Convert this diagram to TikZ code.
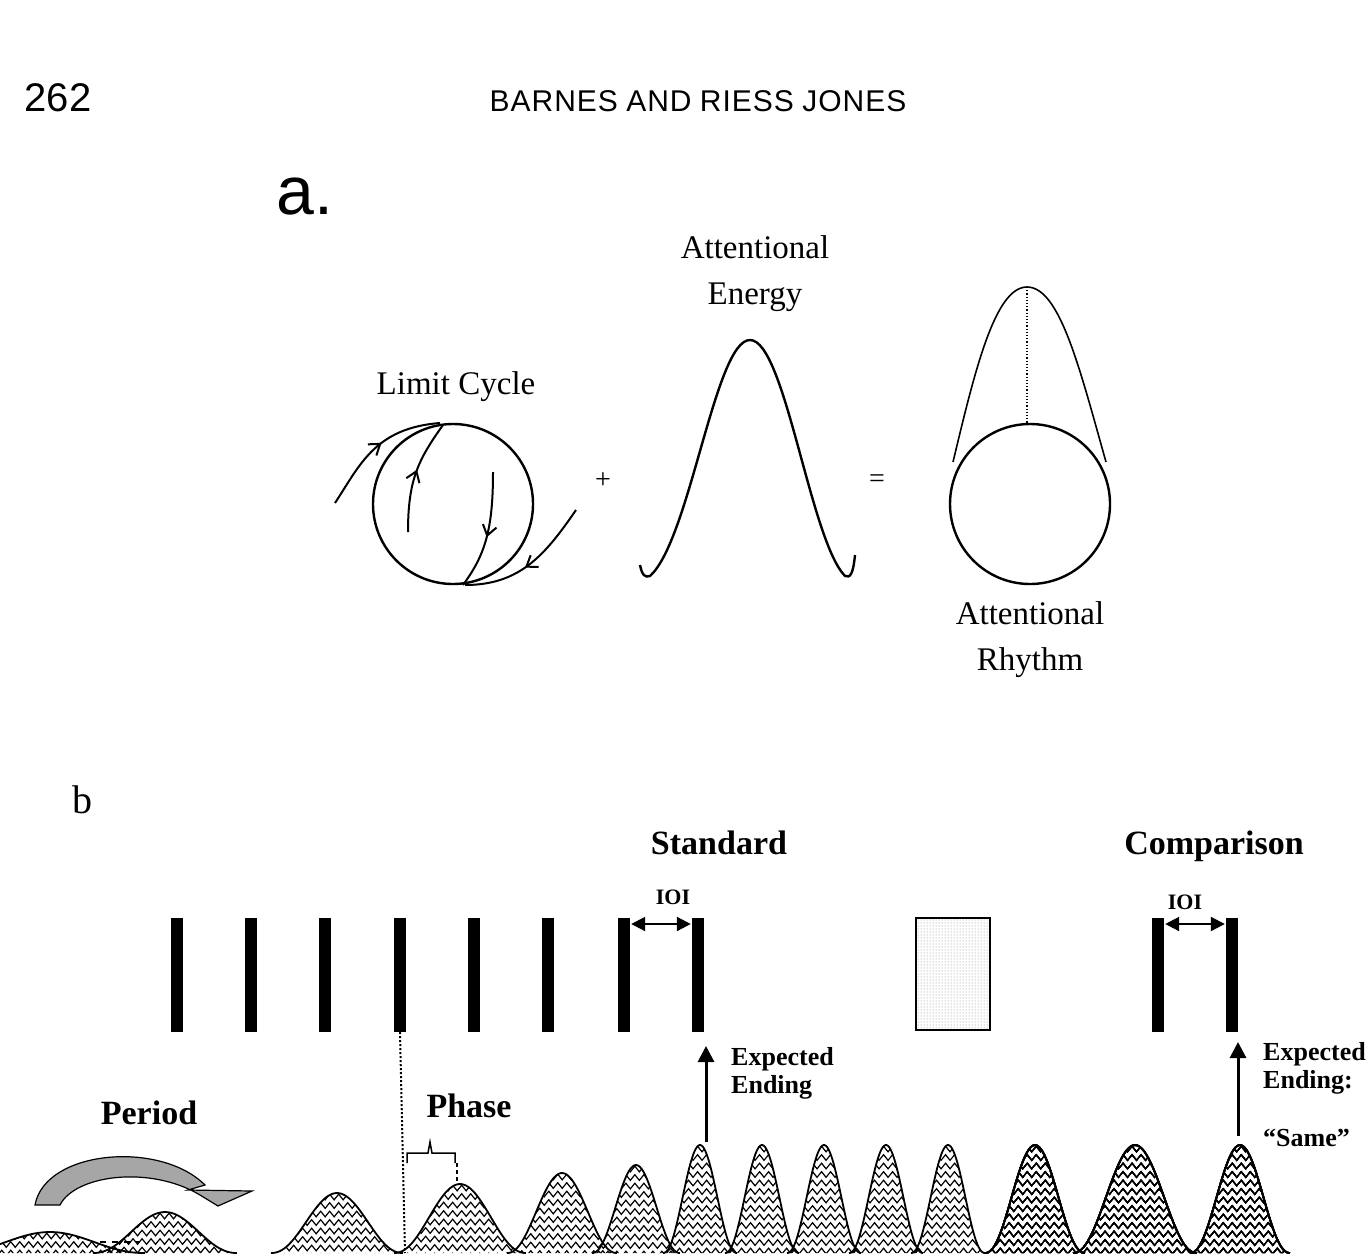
\documentclass[tikz,border=0pt]{standalone}
\usepackage{fontspec}
\setmainfont{Liberation Serif}
\newfontfamily\hdrfont{Liberation Sans}
\usetikzlibrary{positioning,arrows.meta,decorations.pathmorphing,decorations.markings,patterns}

\tikzstyle{bar} = [rectangle, fill=black, inner sep=0pt, minimum width=12pt, minimum height=114pt]
\tikzstyle{label} = [font=\fontsize{33}{46}\selectfont, align=center]
\tikzstyle{blabel} = [font=\fontsize{34}{34}\selectfont\bfseries, align=left, inner sep=0pt]
\tikzstyle{small} = [font=\fontsize{26}{28}\selectfont\bfseries, align=left, inner sep=0pt]
\tikzstyle{arrow} = [draw, line width=3pt, -{Triangle[length=16pt,width=16pt]}]
\tikzstyle{ioi} = [draw, line width=2pt, {Triangle[length=14pt,width=14pt]}-{Triangle[length=14pt,width=14pt]}, shorten <=1pt, shorten >=1pt]
\tikzstyle{flow} = [draw, line width=2pt, postaction={decorate},
  decoration={markings, mark=at position 0.55 with {\arrow{Straight Barb[length=10pt,width=14pt]}}}]
\tikzstyle{line} = [draw, line width=2.4pt]

\newcommand{\peakshape}[3]{plot[domain=-1:1, samples=60] ({#1+#3*\x},{1253-(1253-#2)*(cos(90*\x))^2.2})}
\newcommand{\peak}[3]{% x, top, half width at the bottom edge
  \begin{scope}
    \clip \peakshape{#1}{#2}{#3};
    \foreach \k in {0,...,14}
      \draw[line width=1.2pt, decorate, decoration={zigzag, segment length=9pt, amplitude=2.8pt}]
        ({#1-#3*1.1},{#2+4+8.5*\k}) -- ({#1+#3*1.1},{#2+4+8.5*\k});
  \end{scope}
  \draw[line width=1.8pt] \peakshape{#1}{#2}{#3};
}

\begin{document}
\begin{tikzpicture}[x=1pt, y=-1pt]
    \useasboundingbox (0,0) rectangle (1370,1253);

    % header
    \node[font=\hdrfont\fontsize{40}{40}\selectfont] (page) at (58,98) {262};
    \node[font=\hdrfont\fontsize{30}{30}\selectfont] (head) at (698,101) {B\kern1pt A\kern1pt R\kern1pt N\kern1pt E\kern1pt S A\kern1pt N\kern1pt D R\kern1pt I\kern1pt E\kern1pt S\kern1pt S J\kern1pt O\kern1pt N\kern1pt E\kern1pt S};

    % part a
    \node[font=\hdrfont\fontsize{68}{68}\selectfont] (parta) at (305,197) {a.};
    \node[label] (cycle) at (456,387) {Limit Cycle};
    \node[label] (energy) at (755,274) {Attentional\\Energy};
    \node[label] (rhythm) at (1030,640) {Attentional\\Rhythm};
    \node[font=\fontsize{28}{28}\selectfont] (plus) at (603,481) {+};
    \node[font=\fontsize{28}{28}\selectfont] (eq) at (877,481) {=};

    \draw[line width=2.4pt] (453,504) circle (80);
    \draw[flow] (335,503) .. controls (360,465) and (375,428) .. (440,423);
    \draw[flow] (408,532) .. controls (408,480) and (418,460) .. (443,425);
    \draw[flow] (493,472) .. controls (493,530) and (485,555) .. (463,585);
    \draw[flow] (576,510) .. controls (545,555) and (520,585) .. (465,585);

    \draw[line width=2.4pt] (640,565) .. controls (642,575) and (645,578) .. (650,576)
      .. controls (690,540) and (715,340) .. (750,340)
      .. controls (785,340) and (810,540) .. (845,576)
      .. controls (850,578) and (853,575) .. (855,555);
    \draw[line width=2.4pt] (1030,504) circle (80);
    \coordinate (apex) at (1027,287);
    \draw[line width=1.6pt] (953,462) .. controls (975,370) and (995,287) .. (apex)
                            .. controls (1060,287) and (1080,370) .. (1106,462);
    \draw[line width=1.2pt, dotted] (apex) -- (1027,424);

    % part b
    \node[font=\fontsize{40}{40}\selectfont] (partb) at (82,800) {b};
    \node[blabel, anchor=base] (standard) at (719,854) {Standard};
    \node[blabel, anchor=base] (comparison) at (1214,854) {Comparison};

    \foreach \i/\xx in {1/177,2/251,3/325,4/400,5/474,6/548,7/624,8/698}
      \node[bar] (s\i) at (\xx,975) {};
    \node[bar] (c1) at (1158,975) {};
    \node[bar] (c2) at (1232,975) {};
    \node[draw, line width=1.5pt, pattern=dots, pattern color=gray, minimum width=74pt, minimum height=112pt] (mask) at (953,974) {};

    \draw[ioi] (s7.north east |- 0,924) -- (s8.north west |- 0,924);
    \draw[ioi] (c1.north east |- 0,924) -- (c2.north west |- 0,924);
    \node[font=\fontsize{22}{22}\selectfont\bfseries] (ioia) at (673,897) {IOI};
    \node[font=\fontsize{22}{22}\selectfont\bfseries] (ioib) at (1185,902) {IOI};

    \coordinate (e1b) at (706,1142);
    \coordinate (e1t) at (706,1046);
    \coordinate (e2b) at (1238,1136);
    \coordinate (e2t) at (1238,1042);
    \draw[arrow] (e1b) -- (e1t);
    \draw[arrow] (e2b) -- (e2t);
    \node[small, anchor=north west] (exp1) at (731,1047) {Expected\\Ending};
    \node[small, anchor=north west] (exp2) at (1263,1042) {Expected\\Ending:};
    \node[small, anchor=west] (same) at (1263,1138) {``Same''};

    \node[blabel] (period) at (149,1113) {Period};
    \node[blabel] (phase) at (469,1106) {Phase};

    % period arrow
    \draw[line width=1.2pt, fill=gray!70] (35,1205) .. controls (45,1150) and (160,1140) .. (205,1185)
      -- (188,1190) -- (252,1191) -- (218,1206) -- (200,1195)
      .. controls (150,1165) and (75,1175) .. (60,1205) -- cycle;

    % attentional peaks
    \peak{50}{1232}{95}
    \peak{165}{1212}{72}
    \peak{337}{1193}{66}
    \peak{460}{1184}{66}
    \peak{562}{1173}{55}
    \peak{636}{1165}{44}
    \foreach \xx in {700,762,824,886,948}
      \peak{\xx}{1145}{37}
    \peak{1035}{1145}{50}
    \peak{1135}{1145}{62}
    \peak{1240}{1145}{50}
    \draw[line width=2pt, dash pattern=on 6pt off 6pt] (100,1242) -- (140,1242);

    % phase markers
    \draw[line width=2pt, dotted] (s4.south) -- (405,1253);
    \draw[line width=1.5pt] (407,1163) -- (407,1153) -- (428,1153) -- (430,1142) -- (432,1153) -- (455,1153) -- (455,1163);
    \draw[line width=2pt, dash pattern=on 4pt off 3pt] (457,1163) -- (457,1184);
\end{tikzpicture}
\end{document}
